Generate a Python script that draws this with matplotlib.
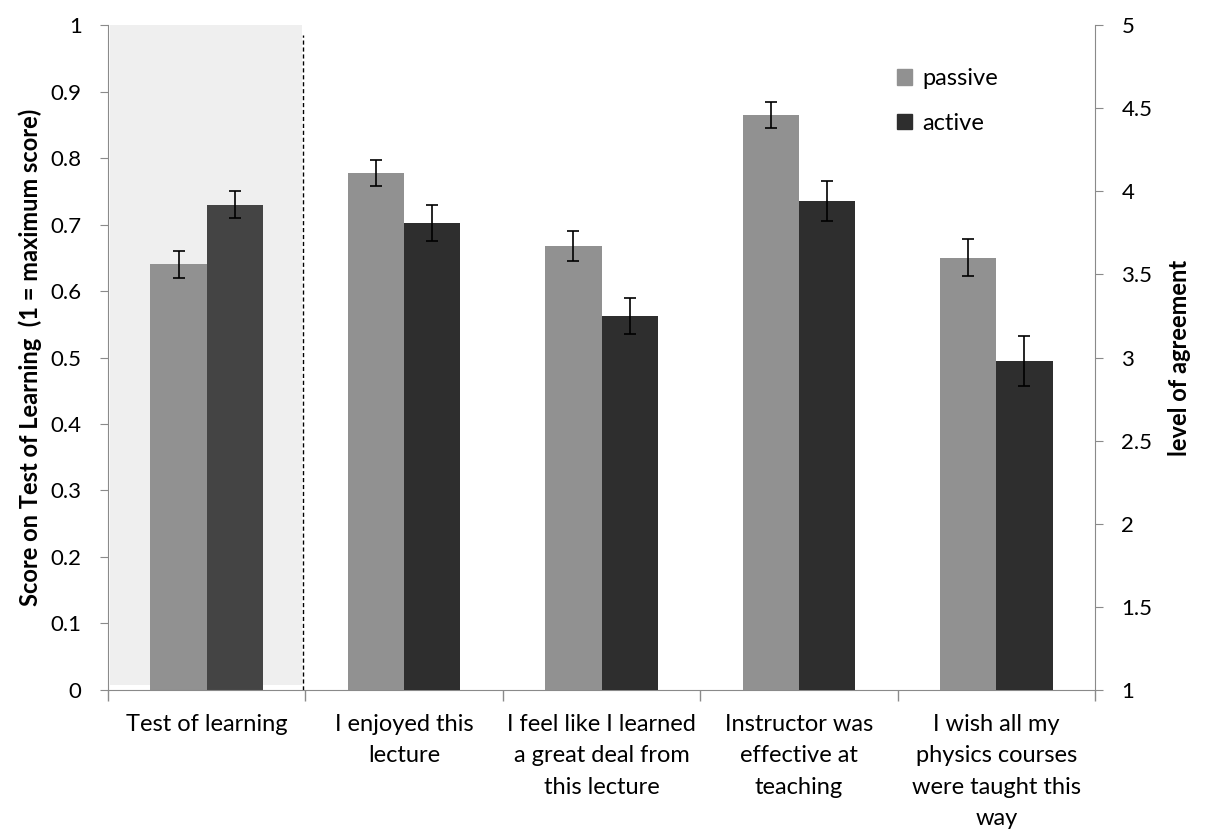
import matplotlib.pyplot as plt
from matplotlib.patches import Patch
import numpy as np

plt.rcParams['font.family'] = ['Lato', 'DejaVu Sans']

# data
categories = ['Test of learning',
              'I enjoyed this\nlecture',
              'I feel like I learned\na great deal from\nthis lecture',
              'Instructor was\neffective at\nteaching',
              'I wish all my\nphysics courses\nwere taught this\nway']

# test of learning score (left axis, 0-1)
test_passive = 0.64
test_passive_err = 0.02
test_active = 0.73
test_active_err = 0.02

# survey agreement (right axis, 1-5)
survey_passive = [4.11, 3.67, 4.46, 3.60]
survey_passive_err = [0.08, 0.09, 0.08, 0.11]
survey_active = [3.81, 3.25, 3.94, 2.98]
survey_active_err = [0.11, 0.11, 0.12, 0.15]

left_ticks = [0, 0.1, 0.2, 0.3, 0.4, 0.5, 0.6, 0.7, 0.8, 0.9, 1]
right_ticks = [1, 1.5, 2, 2.5, 3, 3.5, 4, 4.5, 5]

c_passive = '#919191'
c_active = '#2e2e2e'
c_active_test = '#444444'
axis_col = '#8a8a8a'

fig = plt.figure(figsize=(12.07, 8.35), dpi=100)
ax = fig.add_axes([0.0895, 0.1737, 0.8177, 0.7963])
ax2 = ax.twinx()

w = 0.285
x = np.arange(len(categories))
err_kw = dict(ecolor='black', capsize=4, elinewidth=1.2, capthick=1.2)

# shaded region behind the test of learning group
ax.axvspan(-0.49, 0.483, ymin=0.007, ymax=1.0, color='#efefef', lw=0, zorder=0)
ax.plot([0.488, 0.488], [0, 0.985], color='black', lw=1, ls=(0, (3, 2)), zorder=1)

ax.bar(x[0] - w / 2, test_passive, w, color=c_passive, yerr=test_passive_err,
       error_kw=err_kw, zorder=2)
ax.bar(x[0] + w / 2, test_active, w, color=c_active_test, yerr=test_active_err,
       error_kw=err_kw, zorder=2)

ax2.bar(x[1:] - w / 2, survey_passive, w, color=c_passive, yerr=survey_passive_err,
        error_kw=err_kw, zorder=2)
ax2.bar(x[1:] + w / 2, survey_active, w, color=c_active, yerr=survey_active_err,
        error_kw=err_kw, zorder=2)

ax.set_xlim(-0.5, 4.5)
ax.set_ylim(0, 1)
ax2.set_ylim(1, 5)

ax.set_yticks(left_ticks)
ax.set_yticklabels([f'{t:g}' for t in left_ticks])
ax2.set_yticks(right_ticks)
ax2.set_yticklabels([f'{t:g}' for t in right_ticks])

# category labels, boundary ticks
ax.set_xticks(x)
ax.set_xticklabels(categories, fontsize=17, linespacing=1.62, va='top')
ax.tick_params(axis='x', length=0, pad=17)
ax.set_xticks(np.arange(-0.5, 5.0, 1.0), minor=True)
ax.tick_params(axis='x', which='minor', length=8, color=axis_col, width=1)

ax.tick_params(axis='y', labelsize=16, length=6, color=axis_col, pad=13)
ax2.tick_params(axis='y', labelsize=16, length=6, color=axis_col, pad=13)

for a in (ax, ax2):
    a.spines['top'].set_visible(False)
    for s in ('left', 'right', 'bottom'):
        a.spines[s].set_color(axis_col)
ax.spines['right'].set_visible(False)
ax2.spines['left'].set_visible(False)
ax2.spines['bottom'].set_visible(False)

ax.set_ylabel('Score on Test of Learning  (1 = maximum score)', fontsize=17,
              fontweight='bold', labelpad=6)
ax2.set_ylabel('level of agreement', fontsize=17, fontweight='bold',
               rotation=90, labelpad=11)

handles = [Patch(color=c_passive, label='passive'),
           Patch(color=c_active, label='active')]
ax2.legend(handles=handles, loc='upper left', bbox_to_anchor=(0.778, 0.967),
           frameon=False, fontsize=17, handlelength=0.65, handleheight=0.65,
           labelspacing=1.0, handletextpad=0.4)

fig.savefig('out.png', dpi=100)
